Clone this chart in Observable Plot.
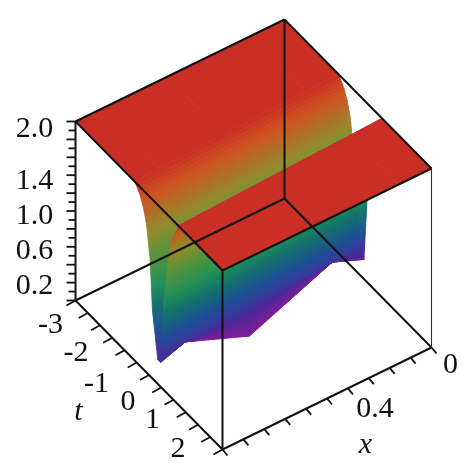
<!DOCTYPE html>
<html>
<head>
<meta charset="utf-8">
<script src="https://cdn.jsdelivr.net/npm/d3@7"></script>
<script src="https://cdn.jsdelivr.net/npm/@observablehq/plot@0.6"></script>
<style>html,body{margin:0;padding:0;background:#fff}svg{display:block;filter:blur(0.45px)}</style>
</head>
<body>
<div id="chart"></div>
<script>
// Axis ranges and ticks
const zTicks = [0,0.1,0.2,0.3,0.4,0.5,0.6,0.7,0.8,0.9,1,1.1,1.2,1.3,1.4,1.5,1.6,1.7,1.8,1.9,2];
const zLabels = [0.2,0.6,1.0,1.4,2.0];
const tTicks = [-3,-2.5,-2,-1.5,-1,-0.5,0,0.5,1,1.5,2,2.5,3];
const tLabels = [-3,-2,-1,0,1,2];
const xTicks = [0,0.1,0.2,0.3,0.4,0.5,0.6,0.7,0.8,0.9,1];
const xLabels = [0,0.4];

// Surface: falling wall, rising wall, valley floor
const backZ = [2,1.97,1.9,1.8,1.65,1.3,0.76,0.27,0];
const backT = [-0.6,-0.5,-0.35,-0.22,-0.1,0.05,0.14,0.36,0.44];
const frontZ = [0,0.27,1.0,1.72,1.89,1.94,2];
const frontT = [0.44,0.47,0.6,0.88,1.08,1.15,1.2];
const colX = [0,0.16,0.56,0.88,1];
const colFloor = [0.22,0.39,0.03,0.36,0.27];
const colShift = [-0.22,-0.18,-0.1,-0.03,0];

// Colour by height
const colourZ = [0,0.3,0.55,0.8,1.0,1.25,1.55,1.72,1.87,2];
const colourV = ["#8a1a96","#4a2a9a","#1f4f96","#14706e","#1f9058","#4a9440","#8f8c2c","#b06e26","#cf5220","#c92f24"];

// Oblique view of the box
const px = (x,t) => 75 + (1-x)*209 + (t+3)/6*147;
const py = (x,t,z) => 300 - (1-x)*102 + (t+3)/6*149 - 89.5*z;
const pt = (x,t,z) => ({X:px(x,t),Y:py(x,t,z)});

const backAt = d3.scaleLinear().domain(backZ).range(backT);
const frontAt = d3.scaleLinear().domain(frontZ).range(frontT);
const levels = d3.range(0,81).map(i => 2 - i*0.025);

let qid = 0;
function quad(a,b,c,d,z){
  const id = qid++;
  return [a,b,c,d,a].map(p => ({...p,id,z}));
}
function wall(at, lv){
  const out = [];
  for(let i=0;i<colX.length-1;i++){
    for(let k=0;k<lv.length-1;k++){
      const a=lv[k], b=lv[k+1];
      if(Math.max(a,b) <= Math.min(colFloor[i],colFloor[i+1])) continue;
      const c = (j,l) => { const z=Math.max(l,colFloor[j]); return pt(colX[j], at(z)+colShift[j], z); };
      out.push(...quad(c(i,a),c(i+1,a),c(i+1,b),c(i,b),(a+b)/2));
    }
  }
  return out;
}
const plateau = [];
for(let i=0;i<colX.length-1;i++){
  plateau.push(...quad(pt(colX[i],-3,2),pt(colX[i+1],-3,2),pt(colX[i+1],backT[0]+colShift[i+1],2),pt(colX[i],backT[0]+colShift[i],2),2));
}
const strip = [];
for(let i=0;i<colX.length-1;i++){
  const t0=frontT[frontT.length-1]+colShift[i], t1=frontT[frontT.length-1]+colShift[i+1];
  strip.push(...quad(pt(colX[i],t0,2),pt(colX[i+1],t1,2),pt(colX[i+1],3,2),pt(colX[i],3,2),2));
}
const floor = [];
for(let i=0;i<colX.length-1;i++){
  const e=(j,at)=>pt(colX[j],at(colFloor[j])+colShift[j],colFloor[j]);
  floor.push(...quad(e(i,backAt),e(i+1,backAt),e(i+1,frontAt),e(i,frontAt),(colFloor[i]+colFloor[i+1])/2));
}
const backWall = wall(backAt, levels);
const frontWall = wall(frontAt, levels.slice().reverse());

const surf = d => Plot.line(d,{x:"X",y:"Y",z:"id",fill:"z",stroke:"z",strokeWidth:0.8,curve:"linear"});

const seg = (a,b,w=2,c="#111") => Plot.link([{a,b}],{x1:d=>d.a.X,y1:d=>d.a.Y,x2:d=>d.b.X,y2:d=>d.b.Y,stroke:c,strokeWidth:w});
const C = (x,t,z)=>pt(x,t,z);

const boxEdges = [
  [C(1,-3,2),C(0,-3,2)],[C(0,-3,2),C(0,3,2)],[C(0,3,2),C(1,3,2)],[C(1,3,2),C(1,-3,2)],
  [C(1,-3,0),C(0,-3,0)],[C(0,-3,0),C(0,3,0)],[C(0,3,0),C(1,3,0)],[C(1,3,0),C(1,-3,0)],
  [C(1,-3,0),C(1,-3,2)],[C(1,3,0),C(1,3,2)],[C(0,-3,0),C(0,-3,2)]
];

const zTickData = zTicks.map(z => ({a:pt(1,-3,z), len:Math.round(z*10)%2===0?9:7}));
const tTickData = tTicks.map(t => ({a:pt(1,t,0)}));
const xTickData = xTicks.map(x => ({a:pt(x,3,0)}));

const tNudge = new Map([[-3,[-1,-2]],[-2,[0,1]],[-1,[-4,7]],[0,[3,0]],[1,[3,-6]],[2,[4,-2]]]);

const serif = "'Liberation Serif','DejaVu Serif',serif";
const labelOpts = {fontFamily:serif,fontSize:30,fill:"#111",textAnchor:"middle",lineAnchor:"middle"};

const plot = Plot.plot({
  width:474,height:474,margin:0,
  x:{domain:[0,474],range:[0,474],axis:null},
  y:{domain:[0,474],range:[0,474],axis:null},
  color:{type:"linear",domain:colourZ,range:colourV,interpolate:"rgb"},
  style:{background:"#fff"},
  marks:[
    surf(plateau),surf(backWall),surf(floor),surf(frontWall),surf(strip),
    ...boxEdges.map(([a,b])=>seg(a,b)),
    seg(C(0,3,0),C(0,3,2),1.1,"#333"),
    Plot.link(zTickData,{x1:d=>d.a.X-d.len,y1:d=>d.a.Y,x2:d=>d.a.X,y2:d=>d.a.Y,stroke:"#111",strokeWidth:1.8}),
    Plot.link(tTickData,{x1:d=>d.a.X-9,y1:d=>d.a.Y+5,x2:d=>d.a.X,y2:d=>d.a.Y,stroke:"#111",strokeWidth:1.8}),
    Plot.link(xTickData,{x1:d=>d.a.X+5,y1:d=>d.a.Y+6,x2:d=>d.a.X,y2:d=>d.a.Y,stroke:"#111",strokeWidth:1.8}),
    Plot.text(zLabels,{x:()=>34,y:z=>pt(1,-3,z).Y+1+2.5*z,text:z=>z.toFixed(1),...labelOpts}),
    Plot.text(tLabels,{x:t=>pt(1,t,0).X-24+tNudge.get(t)[0],y:t=>pt(1,t,0).Y+25+tNudge.get(t)[1],text:t=>String(t),...labelOpts}),
    Plot.text(xLabels,{x:v=>pt(v,3,0).X+(v===0?19:27),y:v=>pt(v,3,0).Y+(v===0?16:19),text:v=>String(v),...labelOpts}),
    Plot.text(["t"],{x:()=>78,y:()=>410,text:d=>d,fontStyle:"italic",...labelOpts}),
    Plot.text(["x"],{x:()=>365,y:()=>443,text:d=>d,fontStyle:"italic",...labelOpts})
  ]
});
document.getElementById("chart").appendChild(plot);
</script>
</body>
</html>
